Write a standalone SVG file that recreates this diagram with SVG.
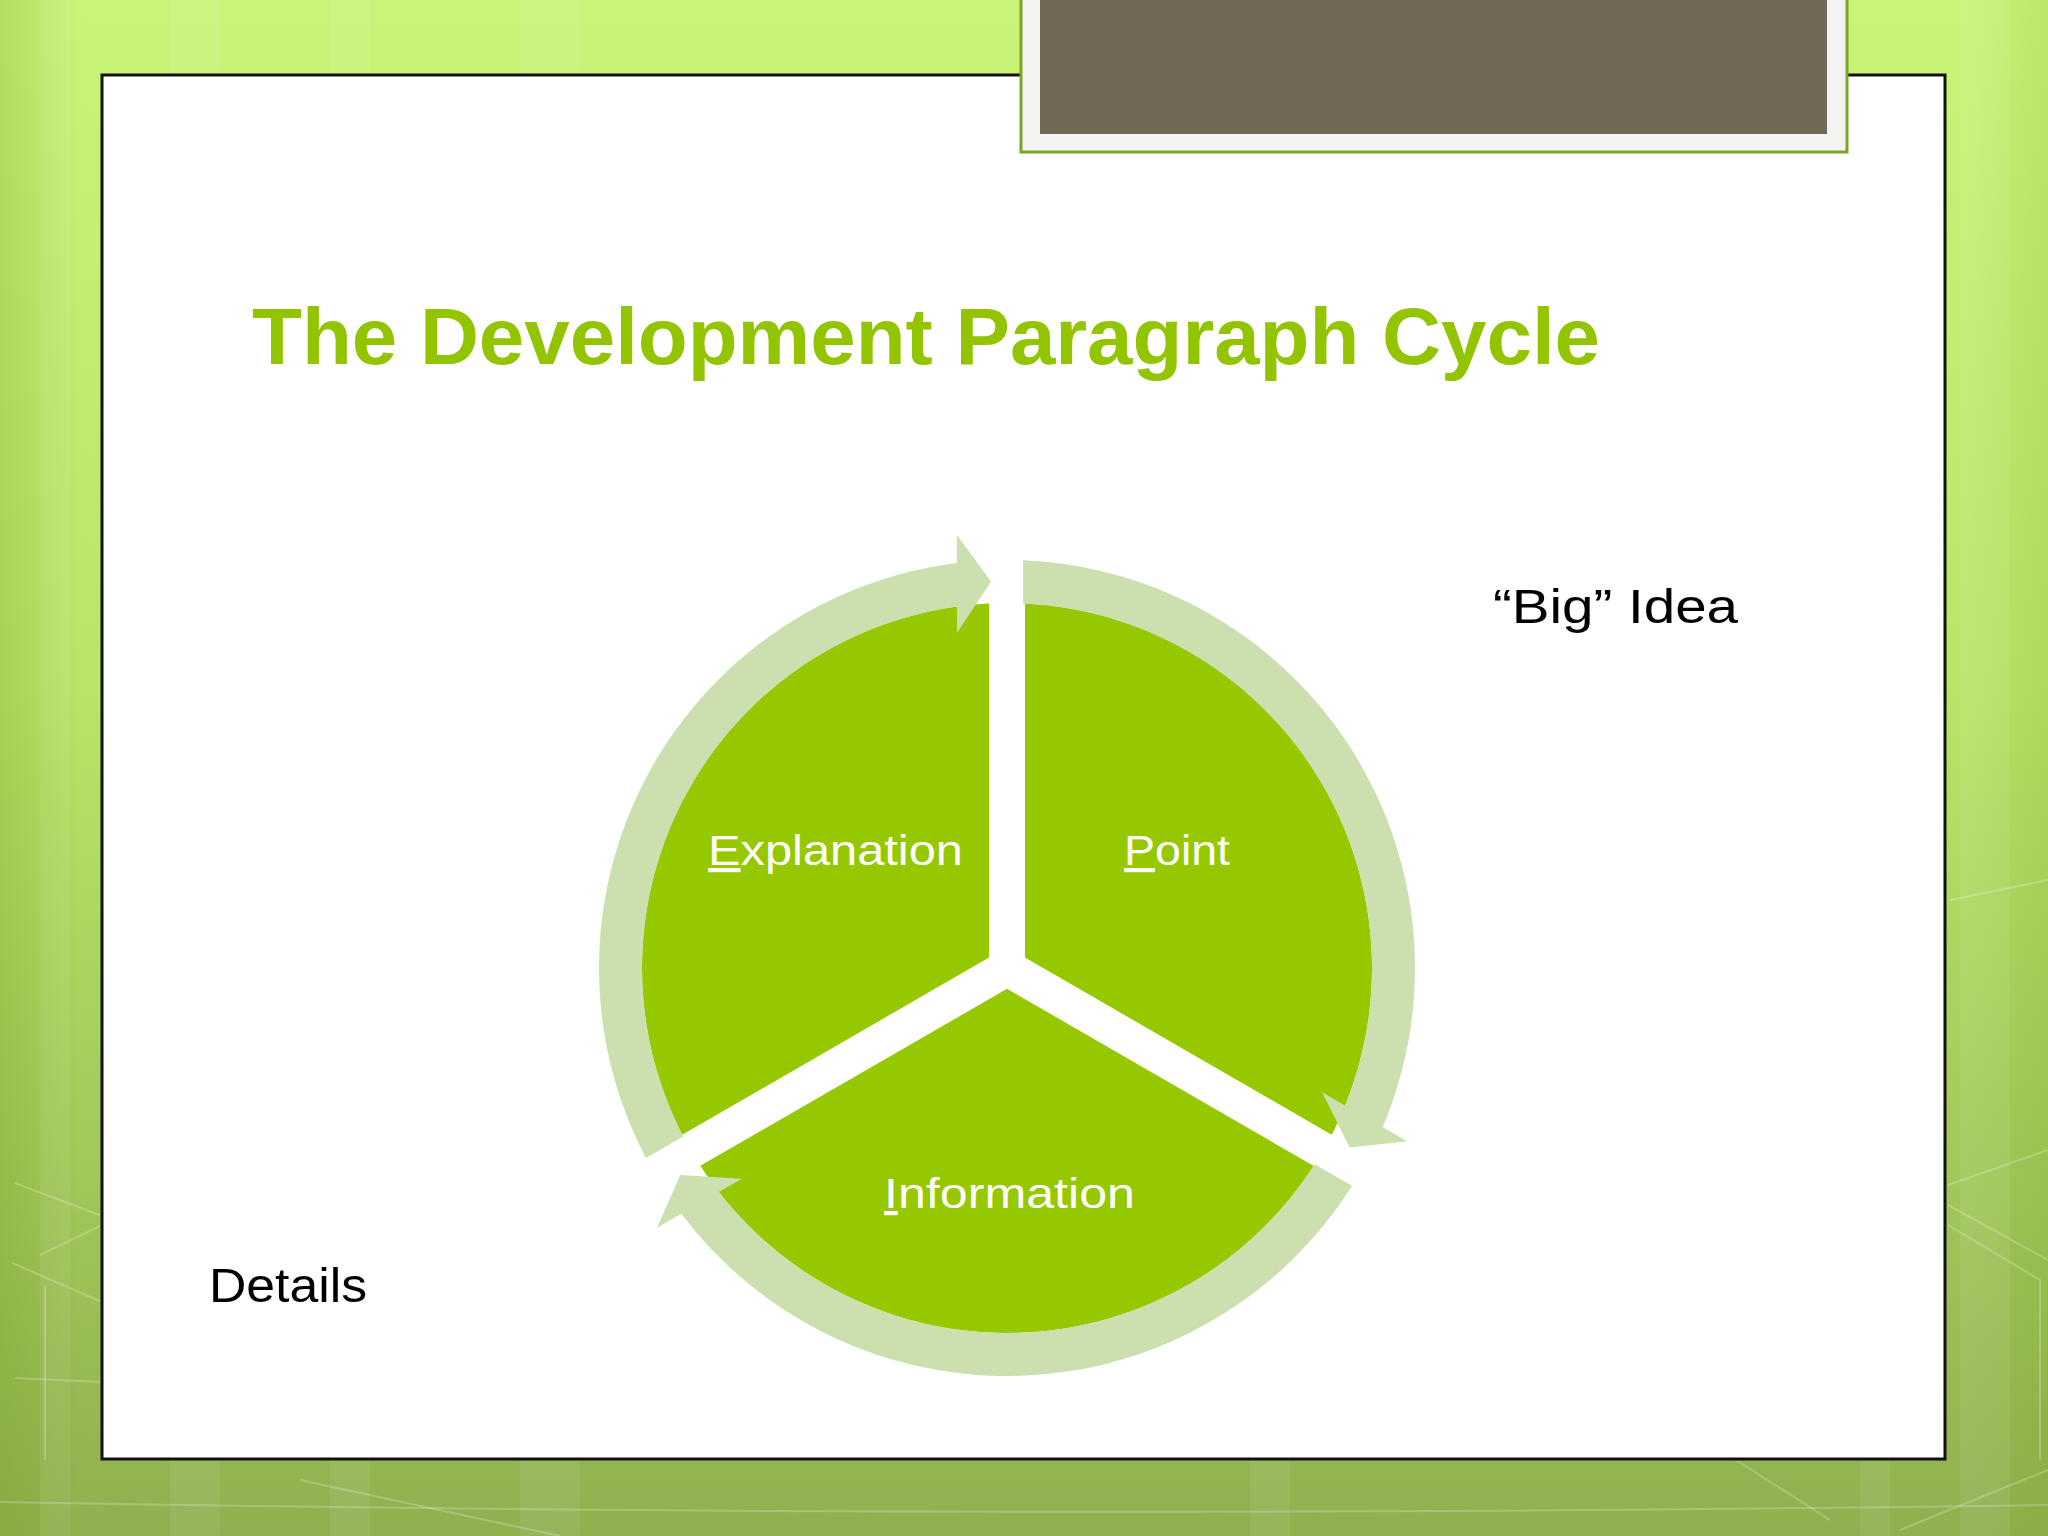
<svg xmlns="http://www.w3.org/2000/svg" width="2048" height="1536" viewBox="0 0 2048 1536">
  <defs>
    <linearGradient id="bg" x1="0" y1="0" x2="0" y2="1">
      <stop offset="0" stop-color="#c9f477"/>
      <stop offset="0.45" stop-color="#b9e466"/>
      <stop offset="0.75" stop-color="#a2c95a"/>
      <stop offset="1" stop-color="#8fb04f"/>
    </linearGradient>
    <linearGradient id="side" x1="0" y1="0" x2="1" y2="0">
      <stop offset="0" stop-color="#6f9a1a" stop-opacity="0.25"/>
      <stop offset="0.04" stop-color="#6f9a1a" stop-opacity="0"/>
      <stop offset="0.96" stop-color="#6f9a1a" stop-opacity="0"/>
      <stop offset="1" stop-color="#6f9a1a" stop-opacity="0.15"/>
    </linearGradient>
    <style>
      .pie { fill: #96c800; }
      .ring { fill: #cbdfaf; }
      .lbl { font-family: "Liberation Sans", Arial, sans-serif; font-size: 42px; fill: #ffffff; }
      .txt { font-family: "Liberation Sans", Arial, sans-serif; font-size: 48px; fill: #000000; }
      .title { font-family: "Liberation Sans", Arial, sans-serif; font-size: 80px; font-weight: bold; fill: #92c400; }
      .stripe { fill: #ffffff; opacity: 0.07; }
      .deco { stroke: #ffffff; stroke-opacity: 0.22; stroke-width: 2; fill: none; }
    </style>
    <path id="arrow" d="M -323.8 168.4 L -361.1 189.9 A 408 408 0 0 1 -50 -404.9 L -50 -433 L -16 -386.5 L -50 -335 L -50 -361.6 A 365 365 0 0 0 -323.8 168.4 Z"/>
    <path id="sector" d="M 18 -10.4 L 18 -364.6 A 365 365 0 0 1 324.7 166.7 Z"/>
  </defs>

  <!-- background -->
  <g id="background">
    <rect x="0" y="0" width="2048" height="1536" fill="url(#bg)"/>
    <rect x="0" y="0" width="2048" height="1536" fill="url(#side)"/>
    <rect class="stripe" x="40" y="0" width="30" height="1536"/>
    <rect class="stripe" x="170" y="0" width="50" height="1536"/>
    <rect class="stripe" x="330" y="0" width="40" height="1536"/>
    <rect class="stripe" x="520" y="0" width="60" height="1536"/>
    <rect class="stripe" x="1250" y="0" width="40" height="1536"/>
    <rect class="stripe" x="1960" y="0" width="50" height="1536"/>
    <rect class="stripe" x="1860" y="1460" width="30" height="76"/>
    <path class="deco" d="M 15 1183 L 102 1216"/>
    <path class="deco" d="M 12 1263 L 102 1302"/>
    <path class="deco" d="M 15 1378 L 102 1382"/>
    <path class="deco" d="M 40 1255 L 102 1225"/>
    <path class="deco" d="M 45 1286 L 45 1460"/>
    <path class="deco" d="M 1948 1185 L 2048 1150"/>
    <path class="deco" d="M 1948 1205 L 2048 1260"/>
    <path class="deco" d="M 1948 1225 L 2040 1280 L 2040 1460"/>
    <path class="deco" d="M 0 1502 Q 1000 1520 2048 1505"/>
    <path class="deco" d="M 1736 1460 L 1830 1520"/>
    <path class="deco" d="M 1900 1530 L 2048 1470"/>
    <path class="deco" d="M 300 1480 L 560 1536"/>
    <path class="deco" d="M 1950 900 L 2048 880"/>
  </g>

  <!-- slide panel -->
  <g id="panel">
    <rect x="102" y="75" width="1843" height="1384" fill="#ffffff" stroke="#111111" stroke-width="3"/>
  </g>

  <!-- brown title box -->
  <g id="photo-frame">
    <rect x="1021" y="-5" width="826" height="157" fill="#f4f4f2" stroke="#7aa623" stroke-width="3"/>
    <rect x="1040" y="0" width="787" height="134" fill="#736757"/>
  </g>

  <g id="title">
    <text class="title" x="252" y="364" textLength="1348" lengthAdjust="spacingAndGlyphs">The Development Paragraph Cycle</text>
  </g>

  <g id="node-point">
    <use href="#sector" class="pie" transform="translate(1007 968)"/>
    <text class="lbl" x="1124" y="865" textLength="106" lengthAdjust="spacingAndGlyphs"><tspan text-decoration="underline">P</tspan>oint</text>
  </g>

  <g id="node-information">
    <use href="#sector" class="pie" transform="translate(1007 968) rotate(120)"/>
    <text class="lbl" x="884" y="1208" textLength="251" lengthAdjust="spacingAndGlyphs"><tspan text-decoration="underline">I</tspan>nformation</text>
  </g>

  <g id="node-explanation">
    <use href="#sector" class="pie" transform="translate(1007 968) rotate(240)"/>
    <text class="lbl" x="708" y="865" textLength="255" lengthAdjust="spacingAndGlyphs"><tspan text-decoration="underline">E</tspan>xplanation</text>
  </g>

  <!-- connectors: circular arrows (drawn over the pie so heads overlap) -->
  <g id="connectors" transform="translate(1007 968)">
    <use href="#arrow" class="ring"/>
    <use href="#arrow" class="ring" transform="rotate(120)"/>
    <use href="#arrow" class="ring" transform="rotate(240)"/>
  </g>

  <g id="label-big-idea">
    <text class="txt" x="1493" y="623" textLength="245" lengthAdjust="spacingAndGlyphs">“Big” Idea</text>
  </g>

  <g id="label-details">
    <text class="txt" x="209" y="1302" textLength="158" lengthAdjust="spacingAndGlyphs">Details</text>
  </g>
</svg>
